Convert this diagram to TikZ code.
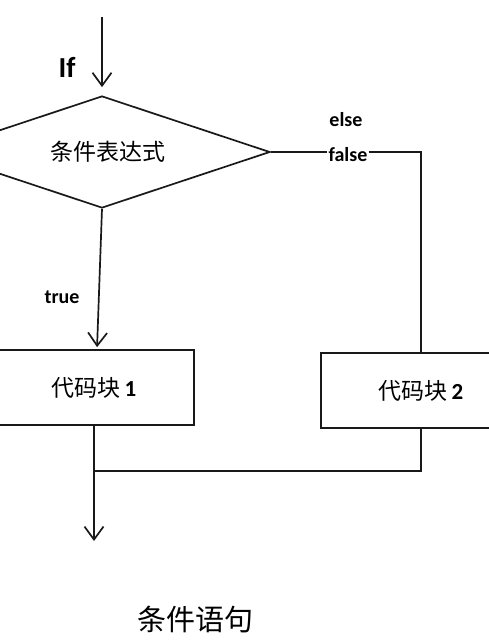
\documentclass[tikz,border=0pt]{standalone}
\usepackage{fontspec}
\setmainfont{Carlito}
\newfontfamily\cjk{Noto Sans CJK SC}
\usetikzlibrary{shapes.geometric,arrows.meta}
\begin{document}
\begin{tikzpicture}[x=1pt,y=-1pt,
  line/.style={draw=black!90,line width=1.7pt},
  arr/.style={line,-{Straight Barb[length=13pt,width=19pt,line width=1.7pt]}},
  decision/.style={diamond,aspect=3,line,minimum width=336pt,minimum height=112pt,inner sep=0pt,font=\cjk\fontsize{23}{26}\selectfont},
  block/.style={rectangle,line,minimum width=200pt,minimum height=75pt,inner sep=0pt,font=\cjk\fontsize{23}{26}\selectfont},
  lbl/.style={font=\bfseries\fontsize{20}{22}\selectfont,inner sep=1pt}]
\useasboundingbox (0,0) rectangle (489,641);
\clip (0,0) rectangle (489,641);
\fill[white] (0,0) rectangle (489,641);
\coordinate (start) at (102,17);
\node[decision] (cond) at (102,152) {\hspace*{12pt}条件表达式};
\node[block] (b1) at (94,387.5) {代码块\,{\rmfamily\bfseries 1}};
\node[block] (b2) at (421,390.5) {代码块\,{\rmfamily\bfseries 2}};
\node[font=\bfseries\fontsize{29}{32}\selectfont] (iflbl) at (67,67) {If};
\node[lbl] (elselbl) at (346,120) {else};
\node[lbl] (falselbl) at (348,155) {false};
\node[lbl] (truelbl) at (62,297) {true};
\node[font=\cjk\fontsize{29}{32}\selectfont] (caption) at (195,620) {条件语句};
\coordinate (join) at (94,471);
\coordinate (exit) at (94,541);
\draw[arr,shorten >=8pt] (start) -- (cond.north);
\draw[arr,shorten >=2pt] (cond.south) -- ([xshift=3pt]b1.north);
\draw[line] (cond.east) -- (cond.east -| falselbl.west);
\draw[line] (cond.east -| falselbl.east) -| (b2.north);
\draw[line] (b2.south) |- (join);
\draw[arr] (b1.south) -- (exit);
\end{tikzpicture}
\end{document}
